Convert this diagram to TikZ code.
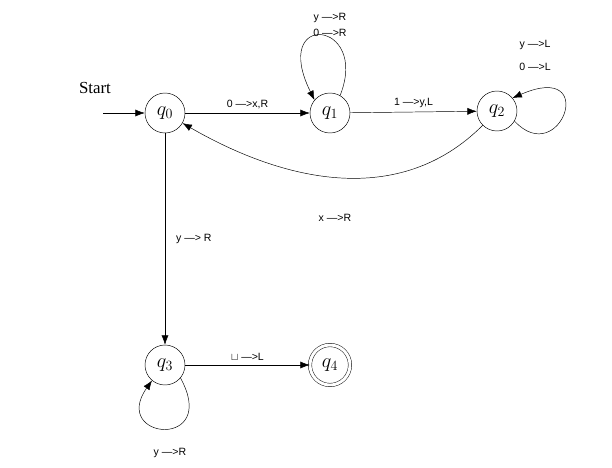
\documentclass[tikz,border=0pt]{standalone}
\usepackage{fontspec}
\setmainfont{Liberation Serif}
\newfontfamily\lbl{Liberation Sans}
\usetikzlibrary{arrows.meta}
\begin{document}
\begin{tikzpicture}[x=0.03cm,y=-0.03cm,
    st/.style={circle, draw, minimum size=1.2cm, inner sep=0pt, font=\LARGE},
    acc/.style={st, double, double distance=2.5pt},
    tr/.style={-{Latex[length=8pt,width=6pt]}},
    lb/.style={font=\lbl\small}]
  \useasboundingbox (0,0) rectangle (612,467);
  \node[st] (q0) at (165,113) {$q_0$};
  \node[st] (q1) at (330,113) {$q_1$};
  \node[st] (q2) at (497,111) {$q_2$};
  \node[st] (q3) at (165,365) {$q_3$};
  \node[acc] (q4) at (330,365) {$q_4$};
  \node[font=\Large] (start) at (95,88) {Start};
  \coordinate (s0) at (103,113);

  \draw[tr] (s0) -- (q0);
  \draw[tr] (q0) -- node[lb, above] {0 —>x,R} (q1);
  \draw[tr] (q1) -- node[lb, above] {1 —>y,L} (q2);
  \draw[tr] (q2) to[out=-135, in=-30] (q0);
  \node[lb] (lx) at (335,218) {x —>R};
  \draw[tr] (q0) -- node[lb, right=6pt] {y —> R} (q3);
  \draw[tr] (q3) -- node[lb, above] {$\sqcup$ —>L} (q4);
  \draw[tr] (q1.60) .. controls (370,20) and (270,10) .. (q1.140);
  \draw[tr] (q2.-30) .. controls (560,170) and (600,60) .. (q2.40);
  \draw[tr] (q3.-40) .. controls (220,450) and (110,440) .. (q3.-130);

  \node[lb] (l1a) at (330,18) {y —>R};
  \node[lb] (l1b) at (330,33) {0 —>R};
  \node[lb] (l2a) at (535,45) {y —>L};
  \node[lb] (l2b) at (535,67) {0 —>L};
  \node[lb] (l3) at (170,453) {y —>R};
\end{tikzpicture}
\end{document}
